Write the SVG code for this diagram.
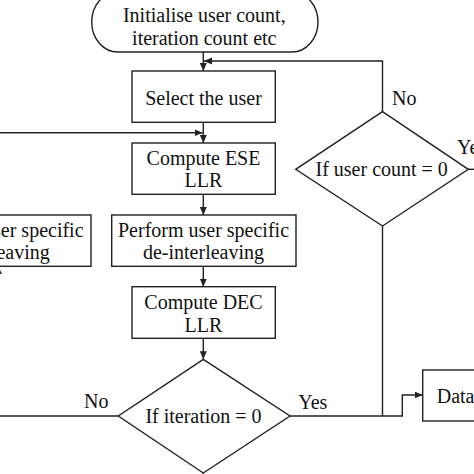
<svg xmlns="http://www.w3.org/2000/svg" width="474" height="474" viewBox="0 0 474 474">
<style>
.s{fill:#fff;stroke:#222;stroke-width:1.4}
.c{fill:none;stroke:#222;stroke-width:1.4}
text{font-family:"Liberation Serif","Times New Roman",serif;font-size:20px;fill:#111}
.m{text-anchor:middle}
</style>
<defs>
<marker id="a" markerUnits="userSpaceOnUse" markerWidth="9" markerHeight="8" refX="8" refY="3.5" orient="auto">
<path d="M0,0 L8,3.5 L0,7 z" fill="#222"/>
</marker>
</defs>
<rect width="474" height="474" fill="#fff"/>
<g id="connectors">
<path class="c" d="M203.3,52 V71" marker-end="url(#a)"/>
<path class="c" d="M203.3,122.3 V143" marker-end="url(#a)"/>
<path class="c" d="M203.3,194.3 V215" marker-end="url(#a)"/>
<path class="c" d="M203.3,266.3 V286.7" marker-end="url(#a)"/>
<path class="c" d="M203.3,338.3 V359.3" marker-end="url(#a)"/>
<path class="c" d="M118.3,416 H-1.5 V266.3" marker-end="url(#a)"/>
<path class="c" d="M-1.5,215 V132.7 H202.6" marker-end="url(#a)"/>
<path class="c" d="M290,416 H402.3 V395 H422.7" marker-end="url(#a)"/>
<path class="c" d="M382.5,226 V416"/>
<path class="c" d="M382.5,112 V61 H204" marker-end="url(#a)"/>
<path class="c" d="M468.3,169.3 H480"/>
<path class="c" d="M203.3,473 V480"/>
</g>
<g id="start">
<rect class="s" x="91.7" y="-8" width="226.3" height="60" rx="26" ry="30"/>
<text class="m" x="204.3" y="22">Initialise user count,</text>
<text class="m" x="204.3" y="45">iteration count etc</text>
</g>
<g id="select">
<rect class="s" x="132" y="71" width="143.3" height="51.3"/>
<text class="m" x="203.5" y="105">Select the user</text>
</g>
<g id="ese">
<rect class="s" x="132" y="143" width="143.3" height="51.3"/>
<text class="m" x="203.5" y="165">Compute ESE</text>
<text class="m" x="203.5" y="187">LLR</text>
</g>
<g id="deinterleave">
<rect class="s" x="111.7" y="215" width="184.3" height="51.3"/>
<text class="m" x="203.5" y="237">Perform user specific</text>
<text class="m" x="203.5" y="258.5">de-interleaving</text>
</g>
<g id="interleave">
<rect class="s" x="-93" y="215" width="184" height="51.3"/>
<text class="m" x="-2" y="237">Perform user specific</text>
<text class="m" x="2" y="258.5">interleaving</text>
</g>
<g id="dec">
<rect class="s" x="132" y="286.7" width="143.3" height="51.6"/>
<text class="m" x="203.5" y="308.5">Compute DEC</text>
<text class="m" x="203.5" y="331.5">LLR</text>
</g>
<g id="iteration">
<polygon class="s" points="203.3,359.3 290,416 203.3,473 118.3,416"/>
<text class="m" x="203.5" y="423">If iteration = 0</text>
<text x="84" y="407.5">No</text>
<text x="298.3" y="408.5">Yes</text>
</g>
<g id="usercount">
<polygon class="s" points="382.5,111.7 468.3,169.3 382.5,226 295.7,169.3"/>
<text class="m" x="381.7" y="176">If user count = 0</text>
<text x="392" y="105">No</text>
<text x="457" y="153.5">Yes</text>
</g>
<g id="data">
<rect class="s" x="422.7" y="370" width="80" height="51"/>
<text x="436.7" y="403">Data</text>
</g>
</svg>
